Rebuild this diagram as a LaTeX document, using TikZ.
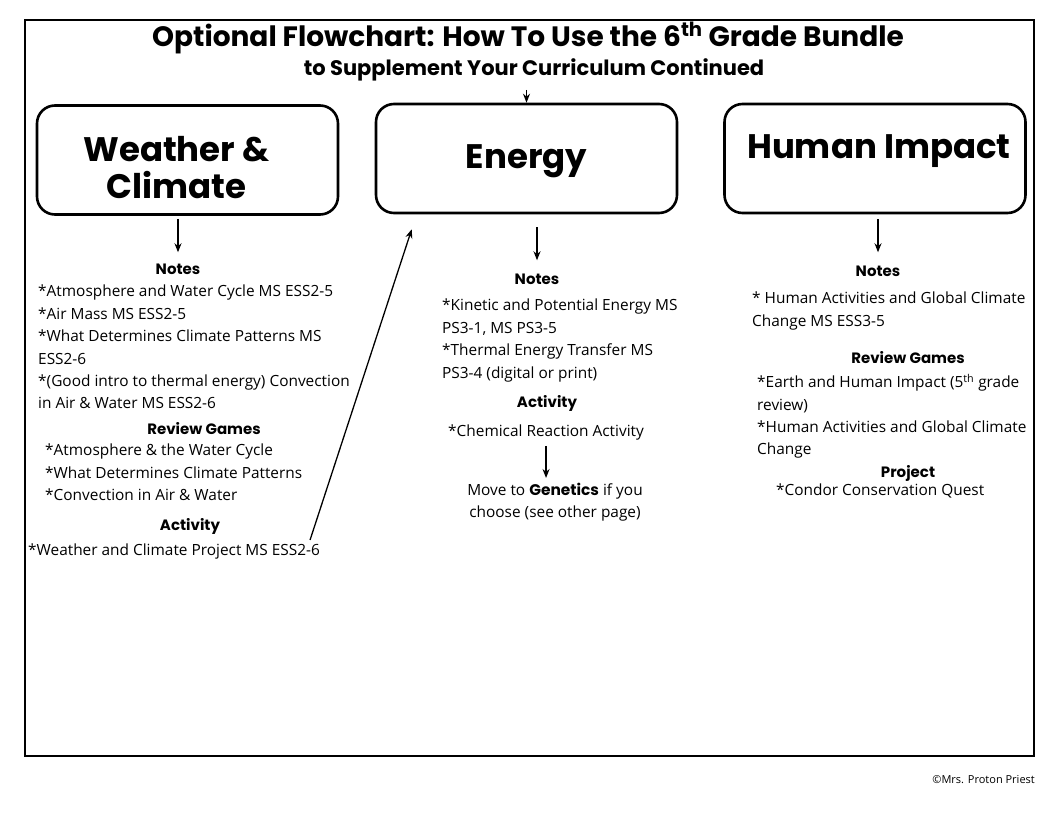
\documentclass[tikz,border=0pt]{standalone}
\usepackage{fontspec}
\setmainfont{Open Sans}
\newfontfamily\headfont{Poppins}
\usetikzlibrary{positioning,calc,arrows.meta}

\begin{document}
\begin{tikzpicture}[x=1pt,y=-1pt,
  topic/.style={draw,line width=2.6pt,rounded corners=18pt,minimum width=301pt,minimum height=109pt,inner sep=0pt},
  topictext/.style={font=\headfont\bfseries\fontsize{34}{37}\selectfont,align=center,inner sep=0pt},
  head/.style={font=\headfont\bfseries\fontsize{15}{18}\selectfont,inner sep=0pt,anchor=base},
  body/.style={font=\fontsize{15.4}{22.4}\selectfont,align=left,inner sep=0pt,anchor=north west},
  arr/.style={line width=1.3pt,-{Stealth[length=9pt,width=7pt]}}]
  \useasboundingbox (0,0) rectangle (1056,816);
  \draw[line width=2pt] (25,20) rectangle (1034,756);

  % title
  \node[font=\headfont\bfseries\fontsize{28}{30}\selectfont,inner sep=0pt,anchor=base] (title) at (528,46) {Optional Flowchart: How To Use the 6\textsuperscript{th} Grade Bundle};
  \node[font=\headfont\bfseries\fontsize{21}{24}\selectfont,inner sep=0pt,anchor=base] (subtitle) at (534,75) {to Supplement Your Curriculum Continued};

  % topic boxes
  \node[topic] (weather) at (187.5,160) {};
  \node[topic] (energy) at (526.5,158.5) {};
  \node[topic] (human) at (875,158.5) {};
  \node[topictext] (weathertxt) at ($(weather)+(-11,8)$) {Weather \&\\Climate};
  \node[topictext] (energytxt) at ($(energy)+(0,2.5)$) {Energy};
  \node[topictext] (humantxt) at ($(human)+(4,-7.5)$) {Human Impact};

  % weather & climate
  \node[head] (wnoteshead) at (178,274) {Notes};
  \node[body] (wnotes) at (38,285) {*Atmosphere and Water Cycle MS ESS2-5\\*Air Mass MS ESS2-5\\*What Determines Climate Patterns MS\\ESS2-6\\*(Good intro to thermal energy) Convection\\in Air \& Water MS ESS2-6};
  \node[head] (wgameshead) at (204,434) {Review Games};
  \node[body] (wgames) at (45,444) {*Atmosphere \& the Water Cycle\\*What Determines Climate Patterns\\*Convection in Air \& Water};
  \node[head] (wacthead) at (190,530) {Activity};
  \node[body] (wproj) at (28,544) {*Weather and Climate Project MS ESS2-6};

  % energy
  \node[head] (enoteshead) at (537,284) {Notes};
  \node[body] (enotes) at (442,299) {*Kinetic and Potential Energy MS\\PS3-1, MS PS3-5\\*Thermal Energy Transfer MS\\PS3-4 (digital or print)};
  \node[head] (eacthead) at (547,407) {Activity};
  \node[body] (echem) at (448,425) {*Chemical Reaction Activity};
  \node[body,anchor=north,align=center] (emove) at (555,483) {Move to {\headfont\bfseries Genetics} if you\\choose (see other page)};

  % human impact
  \node[head] (hnoteshead) at (878,276) {Notes};
  \node[body] (hnotes) at (752,292) {* Human Activities and Global Climate\\Change MS ESS3-5};
  \node[head] (hgameshead) at (908,363) {Review Games};
  \node[body] (hgames) at (757,374) {*Earth and Human Impact (5\textsuperscript{th} grade\\review)\\*Human Activities and Global Climate\\Change};
  \node[head] (hprojhead) at (908,477) {Project};
  \node[body] (hproj) at (776,484) {*Condor Conservation Quest};

  \node[font=\fontsize{11}{13}\selectfont,inner sep=0pt,anchor=east] (credit) at (1035,780) {©Mrs. Proton Priest};

  % arrows
  \draw[arr,shorten <=9pt] (energy.north |- subtitle.south) -- (energy.north);
  \draw[arr,shorten <=3pt,shorten >=11pt] (weather.south -| wnoteshead) -- (wnoteshead.north);
  \draw[arr,shorten <=13pt,shorten >=13pt] (energy.south -| enoteshead) -- (enoteshead.north);
  \draw[arr,shorten <=5pt,shorten >=13pt] (human.south -| hnoteshead) -- (hnoteshead.north);
  \draw[arr,shorten <=5pt,shorten >=5pt] (echem.south) -- (echem.south |- emove.north);
  \draw[arr] ([xshift=-10pt,yshift=4pt]wproj.north east) -- ([xshift=37pt,yshift=-15pt]energy.south west);
\end{tikzpicture}
\end{document}
